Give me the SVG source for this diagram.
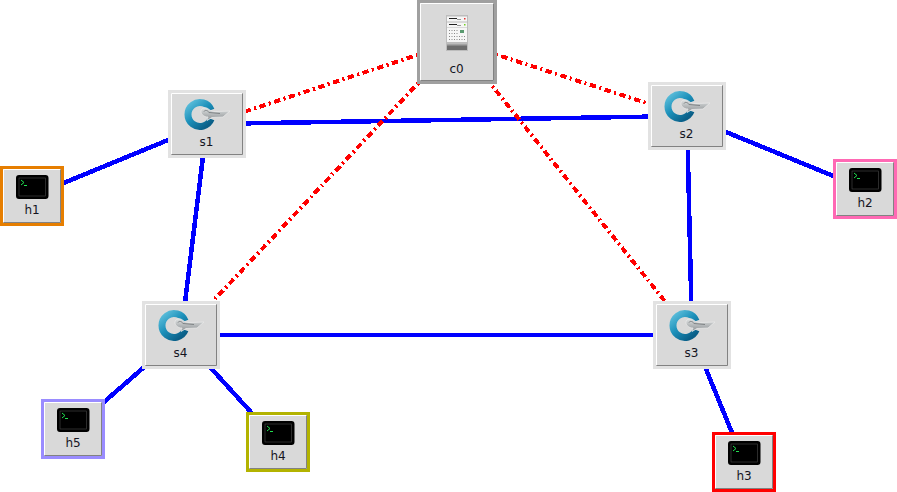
<svg xmlns="http://www.w3.org/2000/svg" xmlns:xlink="http://www.w3.org/1999/xlink" width="897" height="492" viewBox="0 0 897 492">
<style>
.d{stroke:#0000ff;stroke-width:4.500;fill:none;shape-rendering:crispEdges}
.c{stroke:#ff0000;stroke-width:4;fill:none;stroke-dasharray:6.500 3.500 2 3.500;shape-rendering:crispEdges}
text{font-family:"DejaVu Sans",sans-serif;font-size:12px;text-anchor:middle;fill:#14141e}
.face{fill:#d9d9d9}
.frame{fill:#e2e2e2}
.hi{fill:none;stroke:#ffffff;stroke-width:1}
.lo{fill:none;stroke:#828282;stroke-width:1}
</style>
<defs>
<linearGradient id="ring" x1="0" y1="0" x2="0.8" y2="1"><stop offset="0" stop-color="#5fc0dc"/><stop offset=".5" stop-color="#1c90ba"/><stop offset="1" stop-color="#0a5f88"/></linearGradient>
<linearGradient id="arrow" x1="0" y1="0" x2="0" y2="1"><stop offset="0" stop-color="#e0e3e3"/><stop offset="1" stop-color="#8c9093"/></linearGradient>
<g id="swicon">
<path d="M11.100 -4.500 A12 12 0 1 0 11.100 4.500" fill="none" stroke="url(#ring)" stroke-width="7"/>
<path d="M1 -3 C1 -7 6 -8 9 -5 C11 -3.500 13 -3 16 -3 L30 -3.500 L23 2.500 L12 3 L7 6 L8 2.500 C4 2.500 1 0 1 -3Z" fill="url(#arrow)" stroke="#e8e8e8" stroke-width=".8"/>
<path d="M4 -3 C5 -5 8 -4 9 -2 L20 -1" fill="none" stroke="#7f8385" stroke-width="1"/>
</g>
<g id="term">
<rect x="-15" y="-11" width="30.500" height="22" rx="2" fill="#000" stroke="#000" stroke-width="2"/>
<rect x="-13" y="-9" width="26.500" height="18" fill="#000" stroke="#4a4a4a" stroke-width=".6"/>
<path d="M-11 -7 L-8 -4.500 L-11 -2 M-8 -1.500 H-5" stroke="#20e050" stroke-width="1" fill="none"/>
</g>
</defs>
<g id="connectors">
<path class="d" d="M207 124 L687 116"/>
<path class="d" d="M207 124 L181 335"/>
<path class="d" d="M687 116 L692 335"/>
<path class="d" d="M181 335 L692 335"/>
<path class="d" d="M32 196 L207 124"/>
<path class="d" d="M687 116 L865 189"/>
<path class="d" d="M692 335 L744 462"/>
<path class="d" d="M181 335 L278 442"/>
<path class="d" d="M181 335 L73 429"/>
<path class="c" d="M457 42 L207 124"/>
<path class="c" d="M457 42 L687 116"/>
<path class="c" d="M457 42 L181 335"/>
<path class="c" d="M457 42 L692 335"/>
</g>
<g id="c0">
<rect x="417" y="0" width="80" height="84" fill="#a0a0a0"/>
<rect x="420" y="3" width="74" height="78" class="face"/>
<path class="hi" d="M420.500 80 V3.500 H493"/><path class="lo" d="M420.500 80.500 H493.500 V3.500"/>
<rect x="446" y="15" width="22" height="36" fill="#bdbdbd"/>
<rect x="447" y="16.500" width="20" height="5" fill="#f6f6f6"/>
<rect x="447" y="22.500" width="20" height="5" fill="#f6f6f6"/>
<rect x="447" y="28" width="20" height="14" fill="#f6f6f6"/>
<path d="M449 18.500 H457 M449 24.500 H457" stroke="#222" stroke-width="1"/>
<path d="M457 19.500 H461 M457 25.500 H461" stroke="#999" stroke-width="1"/>
<rect x="464" y="18" width="1.500" height="1.500" fill="#e03030"/><rect x="464" y="24" width="1.500" height="1.500" fill="#70d020"/>
<rect x="460" y="30" width="4" height="3" fill="#5a9a70"/>
<path d="M449 30.500 H458 M449 33.500 H458 M449 36.500 H465 M449 39.500 H465" stroke="#8a8a8a" stroke-width="1" stroke-dasharray="1 1.500"/>
<rect x="447" y="44" width="20" height="6" fill="#6e6e6e"/>
<rect x="447" y="44" width="20" height="1.500" fill="#a4a4a4"/>
<text x="456.500" y="73">c0</text>
</g>
<g id="s1">
<rect x="168" y="90" width="78" height="68" class="frame"/>
<rect x="171" y="93" width="72" height="62" class="face"/>
<path class="hi" d="M171.500 154 V93.500 H242"/><path class="lo" d="M171.500 154.500 H242.500 V93.500"/>
<use xlink:href="#swicon" href="#swicon" x="200" y="114.500"/>
<text x="206.500" y="146">s1</text>
</g>
<g id="s2">
<rect x="648" y="82" width="78" height="68" class="frame"/>
<rect x="651" y="85" width="72" height="62" class="face"/>
<path class="hi" d="M651.500 146 V85.500 H722"/><path class="lo" d="M651.500 146.500 H722.500 V85.500"/>
<use xlink:href="#swicon" href="#swicon" x="680" y="106.500"/>
<text x="686.500" y="138">s2</text>
</g>
<g id="s3">
<rect x="653" y="301" width="78" height="68" class="frame"/>
<rect x="656" y="304" width="72" height="62" class="face"/>
<path class="hi" d="M656.500 365 V304.500 H727"/><path class="lo" d="M656.500 365.500 H727.500 V304.500"/>
<use xlink:href="#swicon" href="#swicon" x="685" y="325.500"/>
<text x="691.500" y="357">s3</text>
</g>
<g id="s4">
<rect x="142" y="301" width="78" height="68" class="frame"/>
<rect x="145" y="304" width="72" height="62" class="face"/>
<path class="hi" d="M145.500 365 V304.500 H216"/><path class="lo" d="M145.500 365.500 H216.500 V304.500"/>
<use xlink:href="#swicon" href="#swicon" x="174" y="325.500"/>
<text x="180.500" y="357">s4</text>
</g>
<g id="h1">
<rect x="0" y="166" width="64" height="60" fill="#e67e00"/>
<rect x="3" y="169" width="58" height="54" class="face"/>
<path class="hi" d="M3.500 222 V169.500 H60"/><path class="lo" d="M3.500 222.500 H60.500 V169.500"/>
<use xlink:href="#term" href="#term" x="32" y="187"/>
<text x="32" y="214">h1</text>
</g>
<g id="h2">
<rect x="833" y="159" width="64" height="60" fill="#ff69b4"/>
<rect x="836" y="162" width="58" height="54" class="face"/>
<path class="hi" d="M836.500 215 V162.500 H893"/><path class="lo" d="M836.500 215.500 H893.500 V162.500"/>
<use xlink:href="#term" href="#term" x="865" y="180"/>
<text x="865" y="207">h2</text>
</g>
<g id="h3">
<rect x="712" y="432" width="64" height="60" fill="#ff0000"/>
<rect x="715" y="435" width="58" height="54" class="face"/>
<path class="hi" d="M715.500 488 V435.500 H772"/><path class="lo" d="M715.500 488.500 H772.500 V435.500"/>
<use xlink:href="#term" href="#term" x="744" y="453"/>
<text x="744" y="480">h3</text>
</g>
<g id="h4">
<rect x="246" y="412" width="64" height="60" fill="#b3b300"/>
<rect x="249" y="415" width="58" height="54" class="face"/>
<path class="hi" d="M249.500 468 V415.500 H306"/><path class="lo" d="M249.500 468.500 H306.500 V415.500"/>
<use xlink:href="#term" href="#term" x="278" y="433"/>
<text x="278" y="460">h4</text>
</g>
<g id="h5">
<rect x="41" y="399" width="64" height="60" fill="#9a8cff"/>
<rect x="44" y="402" width="58" height="54" class="face"/>
<path class="hi" d="M44.500 455 V402.500 H101"/><path class="lo" d="M44.500 455.500 H101.500 V402.500"/>
<use xlink:href="#term" href="#term" x="73" y="420"/>
<text x="73" y="447">h5</text>
</g>
</svg>
